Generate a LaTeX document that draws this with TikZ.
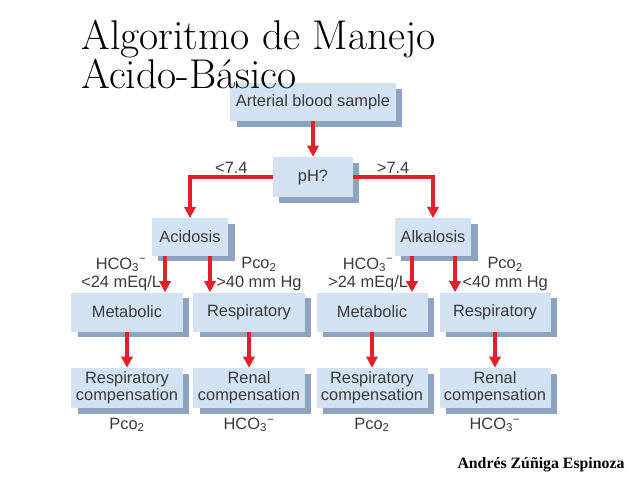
\documentclass[tikz,border=0pt]{standalone}
\usepackage{fontspec}
\newfontfamily\diagfont{Liberation Sans}
\newfontfamily\authfont{Liberation Serif}
\usetikzlibrary{arrows.meta, shadows, positioning}
\definecolor{BoxF}  {HTML}{D2E2F3}
\definecolor{BoxS}  {HTML}{8FA3C0}
\definecolor{ArrR}  {HTML}{E2202C}
\definecolor{TxtG}  {HTML}{3A3A3A}
\tikzset{
  blk/.style args={#1/#2}{
    rectangle, fill=BoxF, text=TxtG,
    font=\diagfont\fontsize{14}{14.5}\selectfont, align=center,
    inner sep=2pt, minimum width=#1, minimum height=#2,
    drop shadow={shadow xshift=0.19cm, shadow yshift=-0.17cm,
      fill=BoxS, opacity=1},
  },
  arr/.style={
    -{Triangle[length=9.5pt,width=9.5pt]},
    line width=2.8pt, color=ArrR,
  },
  lbl/.style={
    font=\diagfont\fontsize{14}{15.5}\selectfont, text=TxtG,
    align=center, inner sep=2pt,
  },
}

\begin{document}
\begin{tikzpicture}[x=0.03cm,y=-0.03cm]
  \useasboundingbox (0,0) rectangle (638,479);
  % first levels
  \node[blk=4.95cm/1.14cm](art)   at (313,102) {Arterial blood sample};
  \node[blk=2.4cm/1.2cm]  (ph)    at (313,177) {pH?};
  \node[blk=2.3cm/1.12cm] (acid)  at (190,237) {Acidosis};
  \node[blk=2.3cm/1.12cm] (alk)   at (433,237) {Alkalosis};
  % disorders
  \node[blk=3.33cm/1.17cm](met1)  at (127,312) {Metabolic};
  \node[blk=3.33cm/1.17cm](resp1) at (249,312) {Respiratory};
  \node[blk=3.33cm/1.17cm](met2)  at (372,312) {Metabolic};
  \node[blk=3.33cm/1.17cm](resp2) at (495,312) {Respiratory};
  % compensation
  \node[blk=3.33cm/1.2cm] (rc1)   at (127,388) {Respiratory\\compensation};
  \node[blk=3.33cm/1.2cm] (ren1)  at (249,388) {Renal\\compensation};
  \node[blk=3.33cm/1.2cm] (rc2)   at (372,388) {Respiratory\\compensation};
  \node[blk=3.33cm/1.2cm] (ren2)  at (495,388) {Renal\\compensation};
  \node[lbl](pc1) at (127,425) {Pco\textsubscript{2}};
  \node[lbl](hc1) at (249,425) {HCO\textsubscript{3}\textsuperscript{−}};
  \node[lbl](pc2) at (372,425) {Pco\textsubscript{2}};
  \node[lbl](hc2) at (495,425) {HCO\textsubscript{3}\textsuperscript{−}};

  \draw[arr](art)--(ph);
  \draw[arr](ph)-|(acid) node[lbl, above, pos=0.25]{<7.4};
  \draw[arr](ph)-|(alk)  node[lbl, above, pos=0.25]{>7.4};

  \path([xshift=-0.75cm]acid.south) coordinate(a1)
       ([xshift=0.6cm]acid.south)   coordinate(a2)
       ([xshift=-0.63cm]alk.south)  coordinate(a3)
       ([xshift=0.66cm]alk.south)   coordinate(a4);
  \draw[arr](a1)--(a1 |- met1.north)
    node[lbl, left, midway]{HCO\textsubscript{3}\textsuperscript{−}\\<24 mEq/L};
  \draw[arr](a2)--(a2 |- resp1.north)
    node[lbl, right, midway, xshift=2pt]{Pco\textsubscript{2}\\>40 mm Hg};
  \draw[arr](a3)--(a3 |- met2.north)
    node[lbl, left, midway]{HCO\textsubscript{3}\textsuperscript{−}\\>24 mEq/L};
  \draw[arr](a4)--(a4 |- resp2.north)
    node[lbl, right, midway, xshift=3pt]{Pco\textsubscript{2}\\<40 mm Hg};

  \draw[arr](met1)--(rc1);  \draw[arr](resp1)--(ren1);
  \draw[arr](met2)--(rc2);  \draw[arr](resp2)--(ren2);

  % title, over the first box
  \node[anchor=north west, inner sep=0pt, align=left,
    font=\fontsize{35.5}{33}\selectfont](title) at (81,20)
    {Algoritmo de Manejo\\Acido-Básico};
  \node[font=\authfont\bfseries\fontsize{13.5}{15}\selectfont](auth)
    at (541,465) {Andrés Zúñiga Espinoza};
\end{tikzpicture}
\end{document}
